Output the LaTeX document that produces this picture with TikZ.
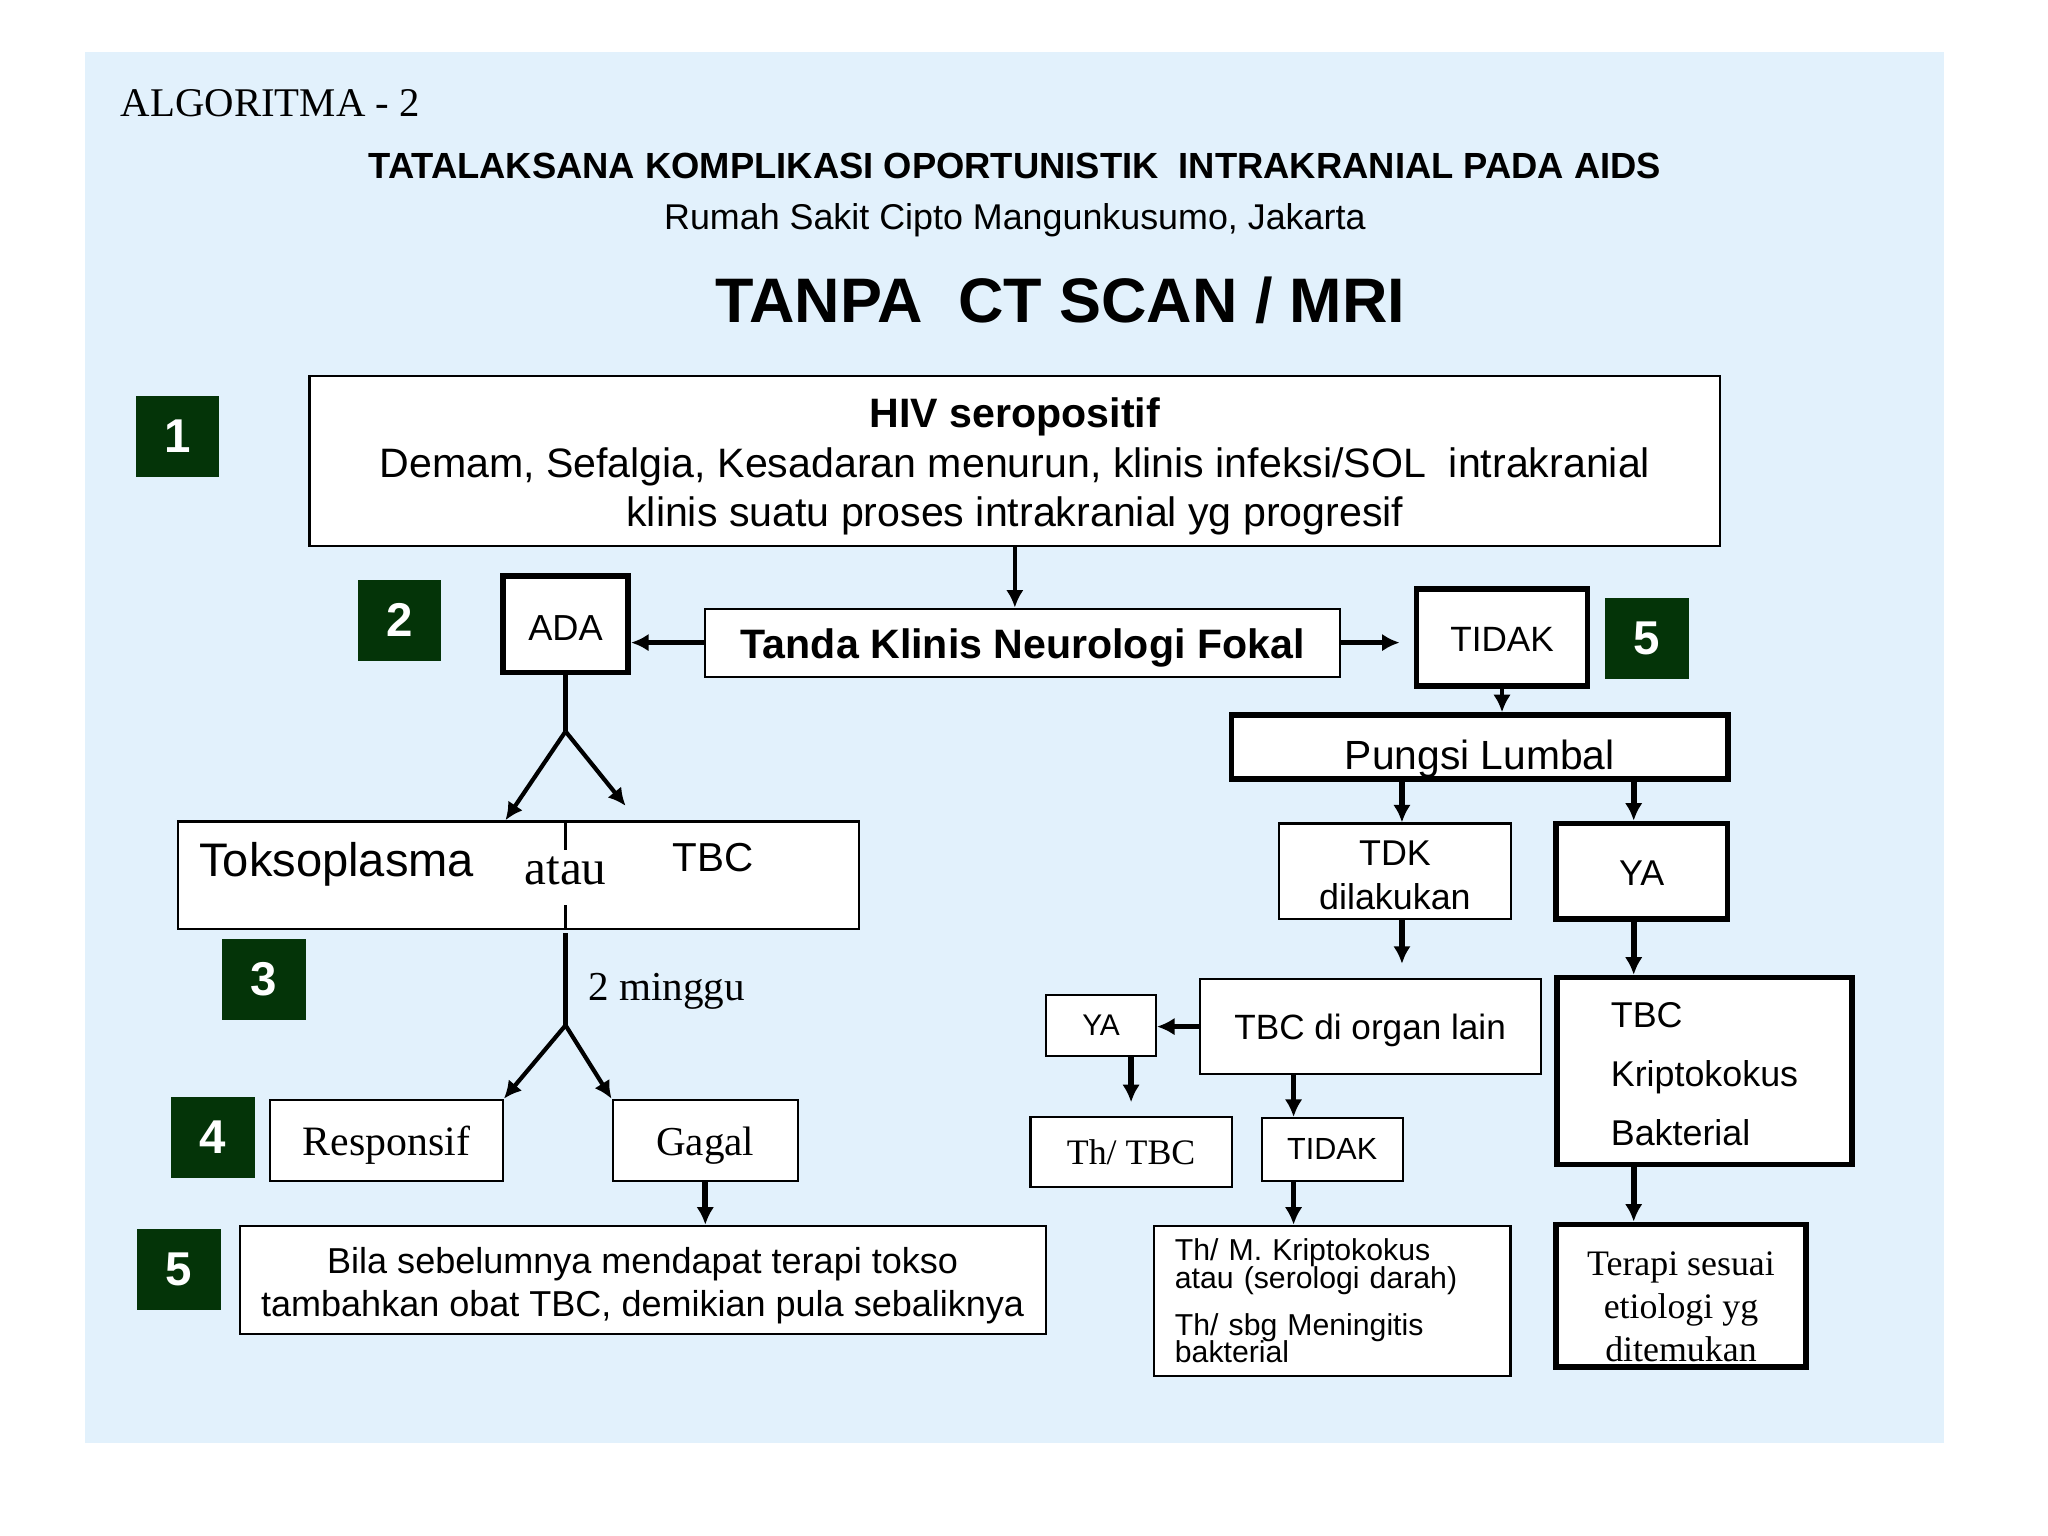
\documentclass[tikz,border=0pt]{standalone}
\usepackage{fontspec}
\setmainfont{Liberation Sans}
\newfontfamily\tnr{Liberation Serif}
\usetikzlibrary{arrows.meta}
\definecolor{panelblue}{RGB}{226,241,252}
\definecolor{badgegreen}{RGB}{4,52,8}
% lower a one-line label inside its box without changing the box
\newcommand\turun[2]{\raisebox{-#1}[\height][\depth]{#2}}
% let lines overlap when the baseline skip is small
\newcommand\rapat{\lineskiplimit=-20pt\relax\lineskip=0pt\relax}
\tikzset{
  box/.style={draw, fill=white, line width=0.6pt, inner sep=0pt},
  heavybox/.style={box, line width=1.6pt},
  sz/.style 2 args={minimum width=#1*0.01306cm, minimum height=#2*0.01306cm},
  badge/.style={fill=badgegreen, text=white, font=\fontsize{13.5}{14}\selectfont\bfseries, sz={64}{62}},
  arr/.style={->, line width=1.6pt},
  thinarr/.style={->, line width=1pt},
  fork/.style={->, line width=1.2pt},
}
\begin{document}
\begin{tikzpicture}[x=0.01306cm, y=-0.01306cm, >={Latex[length=5pt,width=5pt]}]
        % Page and light blue panel
        \fill[white] (0,0) rectangle (1568,1176);
        \useasboundingbox (0,0) rectangle (1568,1176);
        \fill[panelblue] (65,40) rectangle (1488,1105);

        % Headings
        \node[anchor=base west, inner sep=0pt, font=\tnr\fontsize{11.6}{13}\selectfont] (algo) at (92,89) {ALGORITMA - 2};
        \node[font=\fontsize{10.35}{12}\selectfont\bfseries] (judul) at (777,127) {TATALAKSANA KOMPLIKASI OPORTUNISTIK~ INTRAKRANIAL PADA AIDS};
        \node[anchor=base, font=\fontsize{10.2}{12}\selectfont] (rs) at (777,176) {Rumah Sakit Cipto Mangunkusumo, Jakarta};
        \node[font=\fontsize{17.9}{20}\selectfont\bfseries] (tanpa) at (812,230) {TANPA~ CT SCAN / MRI};

        % Number badges
        \node[badge] (n1) at (136,334) {1};
        \node[badge] (n2) at (306,475) {2};
        \node[badge] (n5a) at (1261,489) {5};
        \node[badge] (n3) at (202,750) {3};
        \node[badge] (n4) at (163,871) {4};
        \node[badge] (n5b) at (137,972) {5};

        % Top of the chart
        \node[box, sz={1080}{130}, align=center, font=\fontsize{11.7}{14.1}\selectfont] (hiv) at (777,353)
          {\rule{0pt}{11.5pt}\textbf{HIV seropositif}\\Demam, Sefalgia, Kesadaran menurun, klinis infeksi/SOL~ intrakranial\\klinis suatu proses intrakranial yg progresif};
        \node[box, sz={486}{52}, font=\fontsize{11.7}{14}\selectfont\bfseries] (tanda) at (783,492) {\turun{1.5pt}{Tanda Klinis Neurologi Fokal}};
        \node[heavybox, sz={96}{74}, font=\fontsize{10.3}{12}\selectfont] (ada) at (433,478) {\turun{1pt}{ADA}};
        \node[heavybox, sz={131}{74}, font=\fontsize{10}{12}\selectfont] (tidak) at (1150,488) {\turun{0.7pt}{TIDAK}};

        % Right branch (no focal signs)
        \node[heavybox, sz={380}{49}, font=\fontsize{11.6}{14}\selectfont] (pungsi) at (1133,572) {\turun{3.3pt}{Pungsi Lumbal}};
        \node[box, sz={178}{73}, align=center, font=\fontsize{10.2}{12.6}\selectfont] (tdk) at (1068,667) {\rule{0pt}{9.5pt}TDK\\dilakukan};
        \node[heavybox, sz={131}{73}, font=\fontsize{10.2}{12}\selectfont] (ya) at (1257,667) {\turun{0.5pt}{YA}};
        \node[box, sz={261}{73}, font=\fontsize{10}{12}\selectfont] (organ) at (1049,786) {\turun{1pt}{TBC di organ lain}};
        \node[box, sz={84}{47}, font=\fontsize{8.5}{10}\selectfont] (yakecil) at (843,785) {YA};
        \node[box, sz={154}{53}, font=\tnr\fontsize{10.2}{12}\selectfont] (thtbc) at (866,882) {Th/ TBC};
        \node[box, sz={108}{48}, font=\fontsize{8.7}{10}\selectfont] (tidakkecil) at (1020,880) {TIDAK};
        \node[box, sz={273}{115}, align=left, text width=3.147cm, inner xsep=0.209cm,
              font=\fontsize{8.6}{7.8}\selectfont\rapat] (thkripto) at (1020,996)
          {Th/ M. Kriptokokus\\atau (serologi darah)\\[5.6pt]Th/ sbg Meningitis\\bakterial};
        \node[heavybox, sz={226}{143}, align=left, font=\fontsize{10.2}{16.7}\selectfont] (tkb) at (1305,820) {\rule{0pt}{9pt}TBC\\Kriptokokus\\Bakterial};
        \node[heavybox, sz={191}{109}, align=center, font=\tnr\fontsize{10.2}{12.3}\selectfont] (terapi) at (1287,992) {\rule{0pt}{13pt}Terapi sesuai\\etiologi yg\\ditemukan};

        % Left branch (focal signs)
        \node[box, sz={522}{82}] (toks) at (397,670) {};
        \coordinate (belah) at (433,560);
        \coordinate (belah2) at (433,785);
        \coordinate (toksL) at (387,628);
        \coordinate (toksR) at (479,617);
        \draw[line width=0.6pt] (toks.north -| belah) -- (toks.south -| belah);
        \node[fill=white, inner sep=2pt, text depth=4pt, anchor=base, font=\tnr\fontsize{14}{16}\selectfont] (atau) at (433,677) {atau};
        \node[anchor=base west, inner sep=0pt, font=\fontsize{13.4}{15}\selectfont] (toksnama) at (152,671) {Toksoplasma};
        \node[anchor=base, inner sep=0pt, font=\fontsize{11.5}{13}\selectfont] (toksbc) at (546,667) {TBC};
        \node[anchor=base west, inner sep=0pt, font=\tnr\fontsize{11.7}{13}\selectfont] (minggu) at (450,766) {2 minggu};
        \node[box, sz={178}{62}, font=\tnr\fontsize{11.9}{14}\selectfont] (respon) at (296,873) {\turun{1.5pt}{Responsif}};
        \node[box, sz={142}{62}, font=\tnr\fontsize{11.7}{14}\selectfont] (gagal) at (540,873) {\turun{1.5pt}{Gagal}};
        \node[box, sz={617}{83}, align=center, font=\fontsize{10.25}{12.3}\selectfont] (bila) at (492,980)
          {\rule{0pt}{10.5pt}Bila sebelumnya mendapat terapi tokso\\tambahkan obat TBC, demikian pula sebaliknya};

        % Connectors, top
        \draw[thinarr] (hiv.south) -- (hiv.south |- tanda.north);
        \draw[arr] (tanda.west) -- (tanda.west -| ada.east);
        \draw[arr, shorten >=4pt] (tanda.east) -- (tanda.east -| tidak.west);

        % Connectors, right
        \coordinate (kiri) at ([xshift=-11pt]tidakkecil.north);
        \coordinate (kanan) at ([xshift=2pt]tdk.north);
        \coordinate (lajur) at ([xshift=-2.3pt]ya.north);
        \draw[thinarr] (tidak.south) -- (tidak.south |- pungsi.north);
        \draw[arr] (pungsi.south -| kanan) -- (kanan);
        \draw[arr] (pungsi.south -| lajur) -- (lajur);
        \draw[arr, shorten >=4pt] (kanan |- tdk.south) -- (kanan |- organ.north);
        \draw[arr] (organ.west) -- (organ.west -| yakecil.east);
        \draw[arr, shorten >=4pt] (yakecil.south -| thtbc.north) -- (thtbc.north);
        \draw[arr] (kiri |- organ.south) -- (kiri);
        \draw[arr] (kiri |- tidakkecil.south) -- (kiri |- thkripto.north);
        \draw[arr] (lajur |- ya.south) -- (lajur |- tkb.north);
        \draw[arr] (lajur |- tkb.south) -- (lajur |- terapi.north);

        % Connectors, left
        \draw[line width=1.2pt] (ada.south) -- (belah);
        \draw[fork] (belah) -- (toksL);
        \draw[fork] (belah) -- (toksR);
        \draw[line width=1.5pt, shorten <=1pt] (toks.south -| belah2) -- (belah2);
        \draw[fork] (belah2) -- (respon.north east);
        \draw[fork] (belah2) -- (gagal.north west);
        \draw[arr] (gagal.south) -- (gagal.south |- bila.north);
\end{tikzpicture}
\end{document}
